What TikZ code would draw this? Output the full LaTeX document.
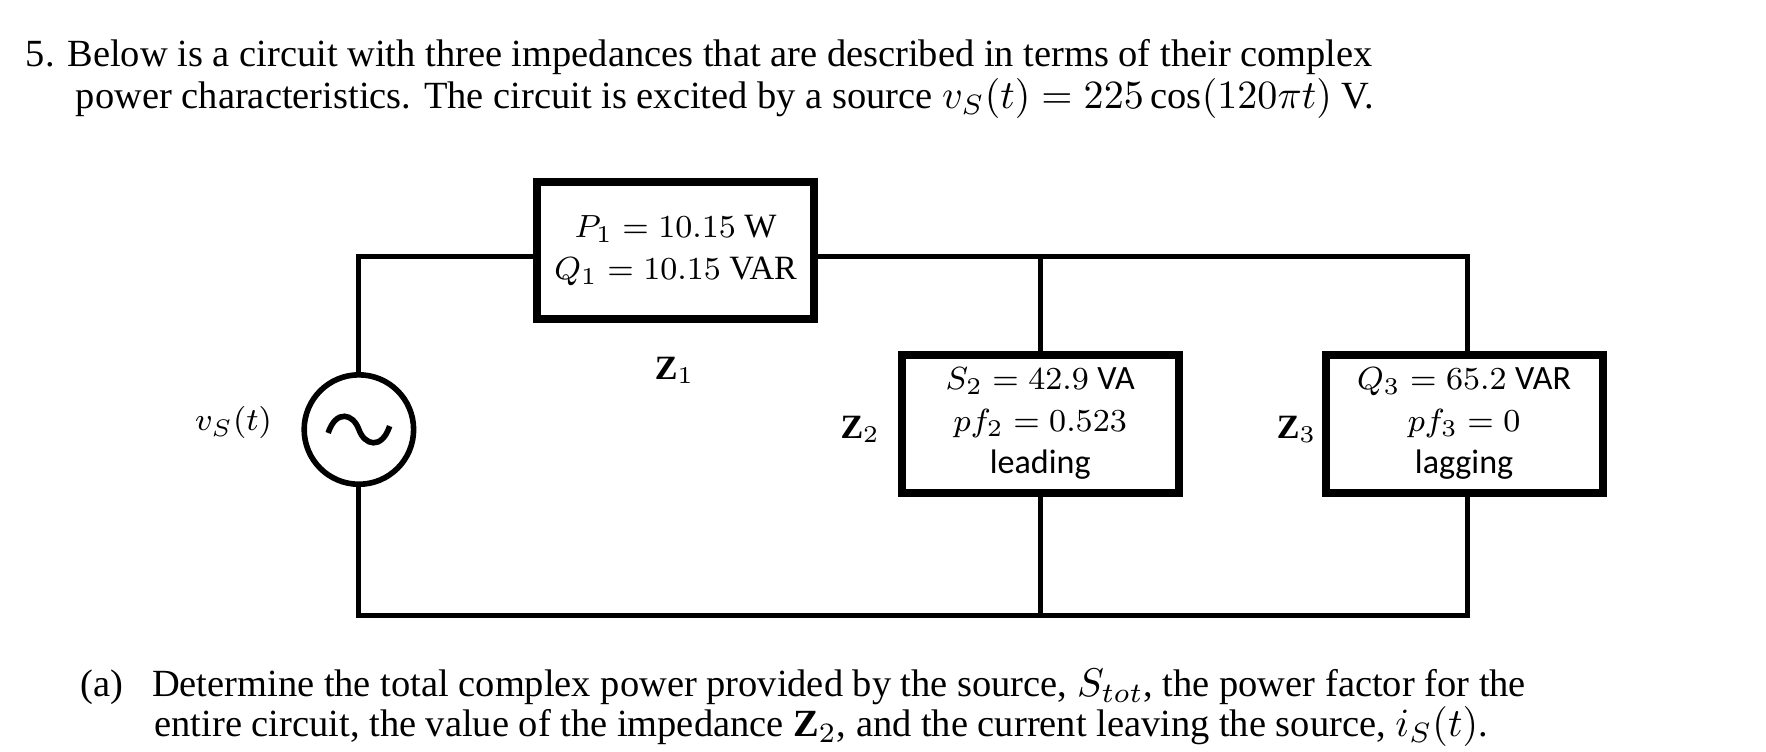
\documentclass[tikz,border=0pt]{standalone}
\usepackage{fontspec}
\setmainfont{Liberation Serif}
\newfontfamily\carl{Carlito}
\usetikzlibrary{calc}
\begin{document}
\begin{tikzpicture}[x=0.01cm,y=-0.01cm,
  wire/.style={line width=1.2pt},
  zbox/.style={draw,line width=2pt,minimum width=2.43cm,minimum height=1.2cm,align=center,font=\fontsize{8.5}{10.5}\selectfont},
  txt/.style={font=\fontsize{9.6}{11}\selectfont,anchor=west,inner sep=0}]
\useasboundingbox (0,0) rectangle (1550,660);
\node[txt] (t1) at (22,50) {5. Below is a circuit with three impedances that are described in terms of their complex};
\node[txt] (t2) at (66,86) {power characteristics. The circuit is excited by a source $v_S(t) = 225\cos(120\pi t)$ V.};
\node[zbox] (z1) at (593,220) {$P_1 = 10.15$ W\\$Q_1 = 10.15$ VAR};
\node[zbox] (z2) at (913,372) {$S_2 = 42.9$ {\carl VA}\\$pf_2 = 0.523$\\{\carl leading}};
\node[zbox] (z3) at (1285,372) {$Q_3 = 65.2$ {\carl VAR}\\$pf_3 = 0$\\{\carl lagging}};
\node[draw,circle,line width=1.4pt,minimum size=0.96cm] (src) at (315,377) {};
\draw[line width=1.4pt] ($(src)+(-27,3)$) .. controls ($(src)+(-20,-18)$) and ($(src)+(-5,-14)$) .. (src.center) .. controls ($(src)+(5,14)$) and ($(src)+(20,18)$) .. ($(src)+(27,-3)$);
\coordinate (tl) at (315,225); \coordinate (tr) at (1288,225);
\coordinate (bl) at (315,540); \coordinate (br) at (1288,540);
\coordinate (tm) at (913,225); \coordinate (bm) at (913,540);
\draw[wire] (src.north) -- (tl) -- (z1.west |- tl);
\draw[wire] (z1.east |- tl) -- (tr) -- (tr |- z3.north);
\draw[wire] (tm) -- (z2.north);
\draw[wire] (z2.south) -- (bm);
\draw[wire] (src.south) -- (bl) -- (br) -- (br |- z3.south);
\node[font=\fontsize{8.5}{10}\selectfont] (lz1) at (592,325) {$\mathbf{Z}_1$};
\node[font=\fontsize{8.5}{10}\selectfont] (lz2) at (755,377) {$\mathbf{Z}_2$};
\node[font=\fontsize{8.5}{10}\selectfont] (lz3) at (1138,377) {$\mathbf{Z}_3$};
\node[font=\fontsize{8.5}{10}\selectfont] (lvs) at (205,371) {$v_S(t)$};
\node[txt] (a1) at (70,603) {(a)\hspace{0.5em} Determine the total complex power provided by the source, $S_{tot}$, the power factor for the};
\node[txt] (a2) at (135,638) {entire circuit, the value of the impedance $\mathbf{Z}_2$, and the current leaving the source, $i_S(t)$.};
\end{tikzpicture}
\end{document}
